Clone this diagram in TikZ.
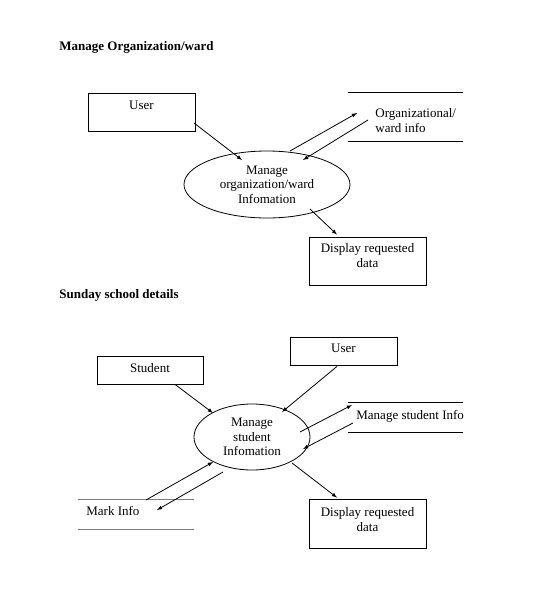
\documentclass[tikz,border=0pt]{standalone}
\usepackage{fontspec}
\setmainfont{Liberation Serif}
\usepackage{tikz}
\usetikzlibrary{arrows,shapes.geometric}
\definecolor{Gr}{RGB}{128,128,128}

\tikzset{
  caja/.style={draw, rectangle, inner sep=0pt},
  proceso/.style={draw, ellipse, inner sep=0pt, align=center},
  almacen/.style={rectangle, inner sep=0pt},
  flecha/.style={-latex}
}

\begin{document}
\begin{tikzpicture}[x=1pt, y=-1pt, line width=0.8pt,
    font=\fontsize{13}{14.5}\selectfont]
    \useasboundingbox (0,0) rectangle (560,606);

    %Titulos
    \node[anchor=west, font=\fontsize{13}{14.5}\selectfont\bfseries, inner sep=0pt] (tit1) at (59,47) {Manage Organization/ward};
    \node[anchor=west, font=\fontsize{13}{14.5}\selectfont\bfseries, inner sep=0pt] (tit2) at (59,295) {Sunday school details};

    %Parte superior
    \node[caja, minimum width=107, minimum height=38] (user1) at (141.5,112) {};
    \node at (141.5,105) {User};
    \node[proceso, minimum width=166, minimum height=67] (proc1) at (267,184.5) {Manage\\organization/ward\\Infomation};
    \node[caja, minimum width=117, minimum height=48] (disp1) at (367.5,261) {};
    \node[align=center] at (367.5,255.5) {Display requested\\data};

    %Almacen Organizational/ward info
    \node[almacen, minimum width=115, minimum height=48] (org) at (405.5,117) {};
    \draw (org.north west) -- (org.north east) (org.south west) -- (org.south east);
    \node[anchor=west, align=left, inner sep=0pt] at (375,120.5) {Organizational/\\ward info};

    %Flechas parte superior
    \draw[flecha] ([shift={(52.5,11)}]user1.center) -- ([shift={(-25,-24.5)}]proc1.center);
    \draw[flecha] ([shift={(23,-33.5)}]proc1.center) -- ([shift={(-48.5,-4)}]org.center);
    \draw[flecha] ([shift={(-37.5,3)}]org.center) -- ([shift={(36,-24.5)}]proc1.center);
    \draw[flecha] ([shift={(43,24.5)}]proc1.center) -- ([shift={(-30.5,-2)}]disp1.north);

    %Parte inferior
    \node[caja, minimum width=106, minimum height=28] (stud) at (150,370) {};
    \node at (150,368) {Student};
    \node[caja, minimum width=107, minimum height=28] (user2) at (343.5,351) {};
    \node at (343.5,348) {User};
    \node[proceso, minimum width=116, minimum height=66] (proc2) at (252,437) {Manage\\student\\Infomation};
    \node[caja, minimum width=117, minimum height=49] (disp2) at (367.5,523.5) {};
    \node[align=center] at (367.5,519.5) {Display requested\\data};

    %Almacen Manage student Info
    \node[almacen, minimum width=115, minimum height=29] (msi) at (405.5,417.5) {};
    \draw (msi.north west) -- (msi.north east) (msi.south west) -- (msi.south east);
    \node[anchor=west, inner sep=0pt] at (356,416) {Manage student Info};

    %Almacen Mark Info
    \node[almacen, minimum width=116, minimum height=29] (mark) at (136,514.5) {};
    \draw[Gr, line width=1.4pt] (mark.north west) -- (mark.north east) (mark.south west) -- (mark.south east);
    \node[anchor=west, inner sep=0pt] at (86,511) {Mark Info};

    %Flechas parte inferior
    \draw[flecha] ([shift={(25,0)}]stud.south) -- ([shift={(-39,-24)}]proc2.center);
    \draw[flecha] ([shift={(-6.5,1)}]user2.south) -- ([shift={(30,-25)}]proc2.center);
    \draw[flecha] ([shift={(48,-5)}]proc2.center) -- ([shift={(-53.5,-12.5)}]msi.center);
    \draw[flecha] ([shift={(-52.5,5.5)}]msi.center) -- ([shift={(51,12)}]proc2.center);
    \draw[flecha] ([shift={(10,-14.5)}]mark.center) -- ([shift={(-39,25)}]proc2.center);
    \draw[flecha] ([shift={(-29,35)}]proc2.center) -- ([shift={(21,-4.5)}]mark.center);
    \draw[flecha] ([shift={(40,26)}]proc2.center) -- ([shift={(-30.5,-1)}]disp2.north);
\end{tikzpicture}
\end{document}
